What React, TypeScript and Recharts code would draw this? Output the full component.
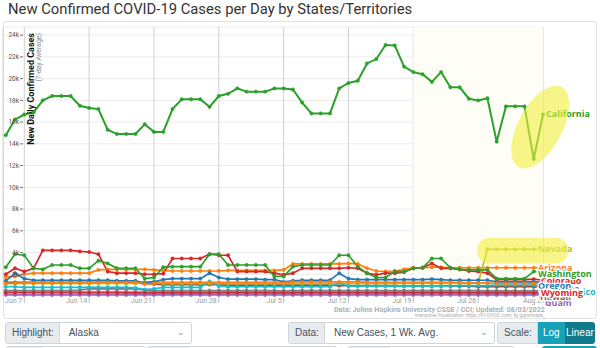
import React from 'react';
import { LineChart, Line, XAxis, YAxis, CartesianGrid, ReferenceArea } from 'recharts';

// one row per day, Jun 5 .. Aug 2 (7 per line)
const dates = [
  'Jun 5', 'Jun 6', 'Jun 7', 'Jun 8', 'Jun 9', 'Jun 10', 'Jun 11',
  'Jun 12', 'Jun 13', 'Jun 14', 'Jun 15', 'Jun 16', 'Jun 17', 'Jun 18',
  'Jun 19', 'Jun 20', 'Jun 21', 'Jun 22', 'Jun 23', 'Jun 24', 'Jun 25',
  'Jun 26', 'Jun 27', 'Jun 28', 'Jun 29', 'Jun 30', 'Jul 1', 'Jul 2',
  'Jul 3', 'Jul 4', 'Jul 5', 'Jul 6', 'Jul 7', 'Jul 8', 'Jul 9',
  'Jul 10', 'Jul 11', 'Jul 12', 'Jul 13', 'Jul 14', 'Jul 15', 'Jul 16',
  'Jul 17', 'Jul 18', 'Jul 19', 'Jul 20', 'Jul 21', 'Jul 22', 'Jul 23',
  'Jul 24', 'Jul 25', 'Jul 26', 'Jul 27', 'Jul 28', 'Jul 29', 'Jul 30',
  'Jul 31', 'Aug 1', 'Aug 2',
];

const firstTickIndex = 2; // Jun 7
const weekTicks = [0, 7, 14, 21, 28, 35, 42, 49, 56];
const yTicks = [0, 2000, 4000, 6000, 8000, 10000, 12000, 14000, 16000, 18000, 20000, 22000, 24000];

const alaska = [
  380, 380, 370, 360, 360, 350, 350,
  350, 340, 340, 340, 330, 330, 330,
  330, 320, 320, 330, 340, 340, 340,
  340, 350, 350, 350, 350, 350, 350,
  350, 340, 330, 340, 350, 350, 350,
  350, 360, 360, 360, 350, 340, 340,
  350, 350, 360, 360, 360, 360, 360,
  360, 350, 350, 340, 340, 340, 340,
  340, 330, 330,
];
const arizona = [
  1750, 1800, 2000, 2100, 2100, 2100, 2100,
  2100, 2100, 2100, 2400, 2450, 2450, 2450,
  2450, 2450, 2400, 2350, 2300, 2300, 2300,
  2300, 2300, 2300, 2350, 2350, 2350, 2350,
  2350, 2350, 2400, 2950, 2950, 2950, 2950,
  2950, 2950, 3000, 2950, 2550, 2300, 2250,
  2300, 2450, 2600, 2600, 2650, 2650, 2600,
  2600, 2600, 2600, 2600, 2600, 2600, 2600,
  2600, 2600, 2600,
];
const california = [
  14800, 16250, 16700, 16900, 18000, 18400, 18400,
  18400, 17500, 17300, 17200, 15300, 14900, 14900,
  14900, 15800, 15100, 15100, 17200, 18100, 18100,
  18100, 17400, 18400, 18600, 19100, 18800, 18800,
  18800, 19100, 19100, 19000, 17800, 16800, 16800,
  16800, 19100, 19600, 19800, 21400, 21800, 23100,
  23050, 21100, 20600, 20400, 19700, 20600, 19200,
  19200, 18150, 18000, 18200, 14200, 17450, 17450,
  17450, 12600, 16700,
];
const colorado = [
  2000, 2550, 2250, 2550, 4200, 4200, 4200,
  4200, 4100, 4050, 3850, 2250, 2100, 2100,
  2100, 2000, 2000, 2050, 3450, 3450, 3450,
  3450, 3850, 3750, 3750, 2250, 2250, 2250,
  2250, 2100, 1950, 2100, 2550, 2550, 2550,
  2550, 2550, 2600, 2550, 2100, 1950, 2100,
  2100, 2200, 2550, 2600, 3000, 2550, 2550,
  2450, 2300, 2250, 2100, 1500, 1500, 1500,
  1500, 1550, 1450,
];
const guam = [
  110, 110, 110, 100, 100, 100, 100,
  100, 100, 100, 100, 100, 100, 100,
  100, 100, 100, 100, 100, 100, 100,
  100, 100, 100, 100, 100, 100, 100,
  100, 100, 100, 100, 100, 100, 100,
  100, 100, 100, 100, 100, 100, 100,
  100, 100, 100, 100, 100, 100, 100,
  100, 100, 100, 100, 100, 100, 100,
  100, 100, 100,
];
const hawaii = [
  1250, 1250, 1250, 1250, 1250, 1250, 1250,
  1250, 1250, 1250, 1250, 1250, 1250, 1200,
  1200, 1150, 1100, 1050, 1050, 1050, 1050,
  1050, 1050, 1050, 1000, 1000, 1000, 1000,
  1000, 1000, 1000, 1000, 1000, 1000, 1000,
  1000, 950, 950, 950, 950, 950, 950,
  950, 900, 900, 900, 900, 900, 900,
  900, 900, 850, 850, 850, 850, 850,
  850, 850, 850,
];
const idaho = [
  420, 420, 420, 410, 410, 410, 410,
  410, 410, 400, 400, 400, 400, 400,
  400, 380, 380, 400, 400, 400, 400,
  400, 410, 410, 410, 410, 410, 410,
  410, 400, 400, 410, 420, 420, 420,
  420, 450, 460, 460, 450, 450, 450,
  450, 450, 460, 460, 460, 460, 460,
  460, 450, 450, 450, 440, 440, 440,
  440, 430, 430,
];
const montana = [
  500, 500, 500, 500, 500, 500, 500,
  500, 550, 650, 650, 650, 650, 650,
  650, 550, 500, 500, 500, 500, 500,
  500, 500, 500, 500, 500, 500, 500,
  500, 500, 480, 500, 500, 500, 500,
  500, 500, 500, 500, 500, 500, 500,
  500, 500, 500, 500, 500, 500, 500,
  500, 500, 500, 480, 480, 480, 480,
  480, 480, 480,
];
const nevada = [
  1150, 1150, 1150, 1150, 1150, 1150, 1150,
  1150, 1150, 1150, 1150, 1150, 1150, 1150,
  1150, 1300, 1300, 1150, 1150, 1150, 1150,
  1150, 1150, 1150, 1150, 1150, 1150, 1150,
  1150, 1150, 1150, 1150, 1150, 1150, 1150,
  1150, 1150, 1150, 1150, 1150, 1150, 1150,
  1150, 1150, 1150, 1150, 1150, 1150, 1150,
  1150, 1150, 1200, 4300, 4300, 4300, 4300,
  4300, 4300, 4300,
];
const newMexico = [
  850, 850, 800, 800, 800, 800, 800,
  800, 800, 800, 800, 800, 800, 800,
  750, 600, 650, 800, 800, 800, 800,
  800, 1350, 900, 850, 850, 850, 850,
  850, 850, 850, 850, 850, 850, 850,
  850, 1200, 900, 900, 900, 900, 900,
  900, 900, 900, 900, 900, 900, 900,
  950, 950, 950, 950, 1000, 1000, 1000,
  1000, 1000, 1000,
];
const oregon = [
  1400, 2100, 1600, 1450, 1450, 1450, 1450,
  1450, 1450, 1450, 1450, 1450, 1400, 1400,
  1400, 1200, 1300, 1500, 1600, 1600, 1600,
  1600, 2100, 1700, 1550, 1550, 1550, 1550,
  1500, 1500, 1300, 1400, 1450, 1450, 1450,
  1450, 2100, 1600, 1500, 1500, 1500, 1500,
  1500, 1500, 1500, 1500, 1550, 1500, 1450,
  1450, 1450, 1450, 1450, 1300, 1300, 1300,
  1300, 1300, 1250,
];
const utah = [
  1150, 1150, 1200, 1200, 1200, 1200, 1200,
  1200, 1200, 1200, 1250, 1250, 1250, 1250,
  1250, 1100, 1150, 1250, 1250, 1250, 1250,
  1250, 1250, 1250, 1250, 1250, 1250, 1250,
  1250, 1250, 1200, 1300, 1300, 1300, 1300,
  1300, 1300, 1300, 1300, 1250, 1250, 1250,
  1250, 1250, 1250, 1250, 1250, 1250, 1250,
  1250, 1200, 1200, 1200, 1150, 1150, 1150,
  1150, 1150, 1150,
];
const washington = [
  2650, 3850, 3750, 2550, 2450, 2850, 2850,
  2850, 2550, 2550, 3250, 3000, 2550, 2550,
  2550, 1600, 1700, 2650, 2700, 2700, 2700,
  2700, 3850, 3850, 2850, 2850, 2850, 2850,
  2850, 1800, 1800, 2700, 2850, 2850, 2850,
  2850, 3750, 3750, 2700, 2100, 1700, 1700,
  2250, 2250, 2550, 2600, 3450, 3450, 2600,
  2450, 2400, 2400, 2400, 1600, 1600, 1600,
  1600, 2250, 2300,
];
const wyoming = [
  300, 300, 300, 300, 300, 300, 300,
  300, 300, 300, 300, 300, 300, 290,
  290, 290, 290, 290, 290, 290, 290,
  290, 290, 290, 290, 290, 290, 290,
  290, 290, 290, 290, 290, 290, 290,
  290, 290, 290, 290, 290, 290, 290,
  290, 290, 290, 290, 290, 290, 290,
  290, 290, 290, 290, 280, 280, 280,
  280, 280, 280,
];

// drawn alphabetically, so later labels sit on top of earlier ones
const series = [
  { name: 'Alaska', values: alaska, color: '#1f77b4', dx: -4, dy: 3 },
  { name: 'Arizona', values: arizona, color: '#ff7f0e', dx: -5, dy: 0 },
  { name: 'California', values: california, color: '#2ca02c', dx: 3, dy: 0 },
  { name: 'Colorado', values: colorado, color: '#d62728', dx: -2, dy: 1 },
  { name: 'Guam', values: guam, color: '#9467bd', dx: 2, dy: 8 },
  { name: 'Hawaii', values: hawaii, color: '#8c564b', dx: -3, dy: 10 },
  { name: 'Idaho', values: idaho, color: '#e377c2', dx: -4, dy: -3 },
  { name: 'Montana', values: montana, color: '#7f7f7f', dx: -4, dy: -2 },
  { name: 'Nevada', values: nevada, color: '#bcbd22', dx: -5, dy: 0 },
  { name: 'New Mexico', values: newMexico, color: '#17becf', dx: -2, dy: 7 },
  { name: 'Oregon', values: oregon, color: '#1f77b4', dx: -5, dy: 4 },
  { name: 'Utah', values: utah, color: '#ff7f0e', dx: -1, dy: 9 },
  { name: 'Washington', values: washington, color: '#2ca02c', dx: -5, dy: 3 },
  { name: 'Wyoming', values: wyoming, color: '#d62728', dx: -2, dy: 0 },
];

const data = dates.map((date, i) => {
  const row: any = { date, day: i - firstTickIndex };
  series.forEach(s => { row[s.name] = s.values[i]; });
  return row;
});

// hand-drawn highlighter marks, in chart units (days after Jun 7, cases)
const nevadaMark = { x1: 48.9, x2: 58.7, y1: 3000, y2: 5350 };
const californiaMark = { x1: 52.3, x2: 59.1, y1: 11600, y2: 19500 };
const recentBand = { x1: 42, x2: 56 };

const uiFont = '"Liberation Sans", Arial, sans-serif';
const chartFont = 'Roboto, sans-serif';
const highlighter = '#f2ee3c';

const dayLabel = (d: number) => dates[d + firstTickIndex];

const XTick = ({ x, y, payload }: any) => (
  <g>
    <text x={x - 2} y={y + 6.5} textAnchor="end" fontSize={7} fontFamily={chartFont} fill="#9a9a9a">
      {dayLabel(payload.value)}
    </text>
    <line x1={x} x2={x} y1={y + 1} y2={y + 7} stroke="#bbb" />
  </g>
);

const YTick = ({ x, y, payload }: any) =>
  payload.value === 0 ? null : (
    <g>
      <text x={x + 16} y={y} dy={2.3} textAnchor="end" fontSize={6.5} fontFamily={chartFont} fill="#555">
        {payload.value / 1000}k
      </text>
      <line x1={x + 17} x2={x + 20} y1={y} y2={y} stroke="#777" />
    </g>
  );

const YTitle = ({ viewBox }: any) => {
  const x = viewBox.x + viewBox.width;
  const y = viewBox.y + 6;
  return (
    <g>
      <text x={x + 31} y={y} transform={`rotate(-90 ${x + 31} ${y})`} textAnchor="end" fontSize={9} fontWeight={700} fontFamily={chartFont} fill="#111">
        New Daily Confirmed Cases
      </text>
      <text x={x + 38} y={y} transform={`rotate(-90 ${x + 38} ${y})`} textAnchor="end" fontSize={7} fontFamily={chartFont} fill="#888">
        (7-day Average)
      </text>
    </g>
  );
};

const endLabel = (s: any) => (props: any) => {
  const { x, y, index } = props;
  if (index !== dates.length - 1) return null;
  return (
    <text x={x + s.dx} y={y + s.dy} dy={3} fontSize={9} fontWeight={700} fontFamily='"Open Sans", sans-serif'
      fill={s.color} stroke="#fff" strokeWidth={2.5} paintOrder="stroke">
      {s.name}
    </text>
  );
};

const TiltedBlob = ({ x, y, width, height }: any) => {
  const cx = x + width / 2;
  const cy = y + height / 2;
  return (
    <ellipse cx={cx} cy={cy} rx={width * 0.35} ry={height * 0.53} transform={`rotate(28 ${cx} ${cy})`}
      fill={highlighter} fillOpacity={0.6} />
  );
};

const Chevron = () => (
  <span style={{ position: 'absolute', right: 6, top: -1, fontSize: 9, color: '#999' }}>⌄</span>
);

const groupLabel: React.CSSProperties = {
  background: '#e9ecef', border: '1px solid #ced4da', borderRadius: '3px 0 0 3px',
  paddingLeft: 6, paddingRight: 5, lineHeight: '20px', color: '#495057',
};
const groupSelect: React.CSSProperties = {
  position: 'relative', flex: 1, background: '#fff', border: '1px solid #ced4da', borderLeft: 'none',
  borderRadius: '0 3px 3px 0', paddingLeft: 9, lineHeight: '20px', color: '#495057',
};
const group = (left: number, width: number): React.CSSProperties => ({
  position: 'absolute', left, top: 322, width, height: 22, display: 'flex', fontSize: 10,
});

export default function App() {
  return (
    <div style={{ position: 'absolute', left: 0, top: 0, width: 600, height: 348, background: '#fff', overflow: 'hidden', fontFamily: uiFont }}>
      <div style={{ position: 'absolute', left: 8, top: 0, fontSize: 14.8, color: '#333', fontFamily: chartFont }}>
        New Confirmed COVID-19 Cases per Day by States/Territories
      </div>
      <div style={{ position: 'absolute', left: 3, top: 21, width: 592, height: 296, border: '1px solid #e2e2e2', borderRadius: 3 }} />

      <div style={{ position: 'absolute', left: 0, top: 0 }}>
        <LineChart width={600} height={348} data={data} margin={{ top: 27, right: 57, bottom: 32, left: -17 }}>
          <ReferenceArea x1={recentBand.x1} x2={recentBand.x2} fill="#fefef7" fillOpacity={1} stroke="none" />
          <CartesianGrid horizontal vertical={false} stroke="#ececec" />
          <CartesianGrid horizontal={false} vertical stroke="#d0d0d0" />
          <XAxis dataKey="day" type="number" domain={[-2.3, 56]} ticks={weekTicks} interval={0}
            height={20} axisLine={false} tickLine={false} tickSize={0} tickMargin={0} tick={<XTick />} />
          <YAxis type="number" domain={[0, 24750]} ticks={yTicks} interval={0} width={20}
            axisLine={false} tickLine={false} tickSize={0} tickMargin={0} tick={<YTick />}
            label={{ content: (p: any) => <YTitle {...p} /> }} />
          {series.map(s => (
            <Line key={s.name} type="linear" dataKey={s.name} stroke={s.color}
              strokeWidth={s.name === 'California' ? 2 : 1.7}
              dot={{ r: 1.7, fill: s.color, stroke: s.color, strokeWidth: 0.5 }}
              label={endLabel(s)} isAnimationActive={false} />
          ))}
          <ReferenceArea x1={nevadaMark.x1} x2={nevadaMark.x2} y1={nevadaMark.y1} y2={nevadaMark.y2}
            ifOverflow="visible" fill={highlighter} fillOpacity={0.6} stroke="none" radius={12} zIndex={2500} />
          <ReferenceArea x1={californiaMark.x1} x2={californiaMark.x2} y1={californiaMark.y1} y2={californiaMark.y2}
            ifOverflow="visible" shape={<TiltedBlob />} zIndex={2500} />
        </LineChart>
      </div>

      <div style={{ position: 'absolute', right: 55, top: 305, fontSize: 7.2, fontWeight: 700, color: '#b0b0b0', fontFamily: chartFont, whiteSpace: 'nowrap' }}>
        Data: Johns Hopkins University CSSE / CCI; Updated: 08/03/2022
      </div>
      <div style={{ position: 'absolute', right: 55, top: 313, fontSize: 4.6, color: '#aaa', fontFamily: chartFont, whiteSpace: 'nowrap' }}>
        Interactive Visualization: https://91-DIVOC.com/ by @profwade_
      </div>

      <div style={group(5, 187)}>
        <div style={groupLabel}>Highlight:</div>
        <div style={groupSelect}>Alaska<Chevron /></div>
      </div>
      <div style={group(288, 207)}>
        <div style={groupLabel}>Data:</div>
        <div style={groupSelect}>New Cases, 1 Wk. Avg.<Chevron /></div>
      </div>
      <div style={group(497, 98)}>
        <div style={groupLabel}>Scale:</div>
        <div style={{ width: 27, background: '#17a2b8', color: '#fff', lineHeight: '22px', textAlign: 'center' }}>Log</div>
        <div style={{ flex: 1, background: '#117a8b', color: '#fff', lineHeight: '22px', textAlign: 'center', borderRadius: '0 3px 3px 0' }}>Linear</div>
      </div>

      <div style={{ position: 'absolute', left: 6, top: 346, width: 138, height: 10, border: '1px solid #ced4da', borderRadius: 3, background: 'linear-gradient(90deg, #e9ecef 26%, #fff 26%)' }} />
      <div style={{ position: 'absolute', left: 147, top: 346, width: 188, height: 10, border: '1px solid #ced4da', borderRadius: 3, background: 'linear-gradient(90deg, #e9ecef 22%, #fff 22%)' }} />
      <div style={{ position: 'absolute', left: 348, top: 346, width: 165, height: 10, border: '1px solid #ced4da', borderRadius: 3, background: 'linear-gradient(90deg, #e9ecef 25%, #fff 25%)' }} />
      <div style={{ position: 'absolute', left: 542, top: 346, width: 55, height: 10, borderRadius: 3, background: '#17a2b8' }} />
    </div>
  );
}
